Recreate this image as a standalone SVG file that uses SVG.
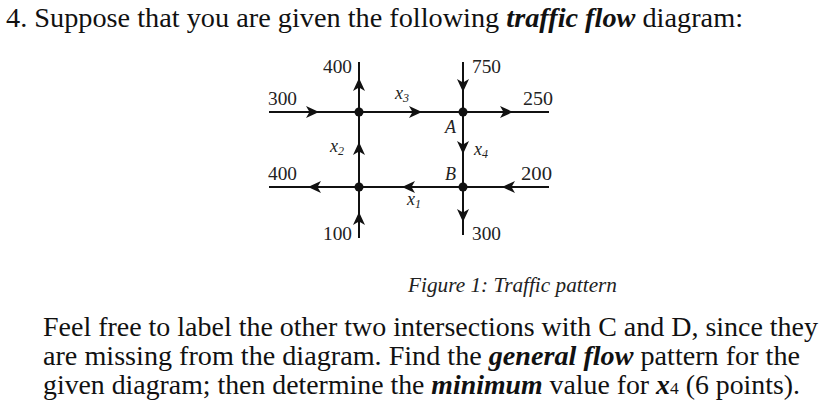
<svg xmlns="http://www.w3.org/2000/svg" xmlns:xlink="http://www.w3.org/1999/xlink" width="822" height="410" viewBox="0 0 822 410">
<style>
.t{font-family:"Liberation Serif","Times New Roman",serif;fill:#111}
.big{font-size:27px}
.bi{font-weight:bold;font-style:italic}
.lbl{font-family:"Liberation Serif","Times New Roman",serif;font-size:18px;fill:#222}
.it{font-style:italic}
.sub{font-size:12px}
.road{stroke:#111;stroke-width:2;fill:none}
.cap{font-family:"Liberation Serif","Times New Roman",serif;font-size:20px;font-style:italic;fill:#222}
</style>
<defs>
<path id="ah" d="M0,0 L-13,-6 L-9.5,0 L-13,6 Z" fill="#111"/>
</defs>
<rect width="822" height="410" fill="#fff"/>
<text class="t big" x="6" y="27" textLength="737" lengthAdjust="spacingAndGlyphs">4.  Suppose that you are given the following <tspan class="bi">traffic flow</tspan> diagram:</text>

<g id="connectors">
<line class="road" x1="269" y1="112" x2="549" y2="112"/>
<line class="road" x1="269" y1="187" x2="549" y2="187"/>
<line class="road" x1="359" y1="62" x2="359" y2="238"/>
<line class="road" x1="463" y1="62" x2="463" y2="235"/>
<use xlink:href="#ah" transform="translate(319,112)"/>
<use xlink:href="#ah" transform="translate(422,112)"/>
<use xlink:href="#ah" transform="translate(513,112)"/>
<use xlink:href="#ah" transform="translate(308,187) rotate(180)"/>
<use xlink:href="#ah" transform="translate(402,187) rotate(180)"/>
<use xlink:href="#ah" transform="translate(502,187) rotate(180)"/>
<use xlink:href="#ah" transform="translate(359,78) rotate(-90)"/>
<use xlink:href="#ah" transform="translate(359,142) rotate(-90)"/>
<use xlink:href="#ah" transform="translate(359,212) rotate(-90)"/>
<use xlink:href="#ah" transform="translate(463,92) rotate(90)"/>
<use xlink:href="#ah" transform="translate(463,154) rotate(90)"/>
<use xlink:href="#ah" transform="translate(463,222) rotate(90)"/>
</g>

<g id="nodeTL"><circle cx="359" cy="112" r="4.5" fill="#111"/></g>
<g id="nodeA"><circle cx="463" cy="112" r="4.5" fill="#111"/><text class="lbl it" x="445" y="133">A</text></g>
<g id="nodeBL"><circle cx="359" cy="187" r="4.5" fill="#111"/></g>
<g id="nodeB"><circle cx="463" cy="187" r="4.5" fill="#111"/><text class="lbl it" x="445" y="180">B</text></g>

<g id="labels">
<text class="lbl" x="323" y="73" textLength="29" lengthAdjust="spacingAndGlyphs">400</text>
<text class="lbl" x="472" y="73" textLength="29" lengthAdjust="spacingAndGlyphs">750</text>
<text class="lbl" x="268" y="105" textLength="29" lengthAdjust="spacingAndGlyphs">300</text>
<text class="lbl" x="523" y="105" textLength="30" lengthAdjust="spacingAndGlyphs">250</text>
<text class="lbl" x="268" y="180" textLength="29" lengthAdjust="spacingAndGlyphs">400</text>
<text class="lbl" x="521" y="180" textLength="31" lengthAdjust="spacingAndGlyphs">200</text>
<text class="lbl" x="323" y="240" textLength="29" lengthAdjust="spacingAndGlyphs">100</text>
<text class="lbl" x="472" y="240" textLength="29" lengthAdjust="spacingAndGlyphs">300</text>
<text class="lbl it" x="395" y="99">x<tspan class="sub" dy="3">3</tspan></text>
<text class="lbl it" x="330" y="152">x<tspan class="sub" dy="3">2</tspan></text>
<text class="lbl it" x="474" y="155">x<tspan class="sub" dy="3">4</tspan></text>
<text class="lbl it" x="407" y="205">x<tspan class="sub" dy="3">1</tspan></text>
</g>

<text class="cap" x="408" y="292" textLength="209" lengthAdjust="spacingAndGlyphs">Figure 1: Traffic pattern</text>

<text class="t big" x="43" y="336" textLength="775" lengthAdjust="spacingAndGlyphs">Feel free to label the other two intersections with C and D, since they</text>
<text class="t big" x="43" y="365" textLength="757" lengthAdjust="spacingAndGlyphs">are missing from the diagram.  Find the <tspan class="bi">general flow</tspan> pattern for the</text>
<text class="t big" x="43" y="394" textLength="757" lengthAdjust="spacingAndGlyphs">given diagram; then determine the <tspan class="bi">minimum</tspan> value for <tspan class="bi">x</tspan><tspan font-size="17px">4</tspan> (6 points).</text>
</svg>
